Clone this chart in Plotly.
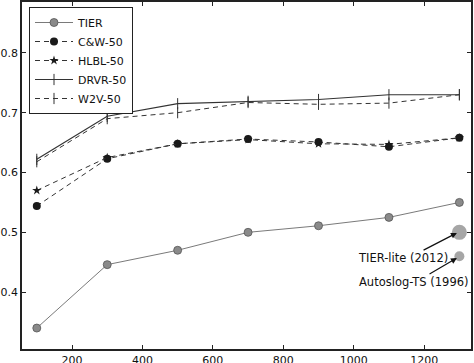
import plotly.graph_objects as go

x_vals = [100, 300, 500, 700, 900, 1100, 1300]
tier = [0.340, 0.446, 0.470, 0.500, 0.511, 0.525, 0.550]
cw50 = [0.544, 0.623, 0.648, 0.656, 0.651, 0.643, 0.658]
hlbl50 = [0.570, 0.625, 0.648, 0.655, 0.648, 0.647, 0.658]
drvr50 = [0.622, 0.694, 0.715, 0.719, 0.722, 0.730, 0.730]
w2v50 = [0.618, 0.690, 0.700, 0.717, 0.714, 0.716, 0.730]

tier_lite_x, tier_lite_y = 1300, 0.500
autoslog_x, autoslog_y = 1300, 0.460

x_ticks = [200, 400, 600, 800, 1000, 1200]
y_ticks = [0.4, 0.5, 0.6, 0.7, 0.8]

font = "DejaVu Sans"
fig = go.Figure()

fig.add_trace(go.Scatter(x=x_vals, y=tier, name="TIER", mode="lines+markers",
                         line=dict(color="#7a7a7a", width=1),
                         marker=dict(symbol="circle", size=8, color="#8a8a8a",
                                     line=dict(color="#555555", width=0.8))))
fig.add_trace(go.Scatter(x=x_vals, y=cw50, name="C&W-50", mode="lines+markers",
                         line=dict(color="#333333", width=1, dash="5px,4px"),
                         marker=dict(symbol="circle", size=8, color="#1a1a1a")))
fig.add_trace(go.Scatter(x=x_vals, y=hlbl50, name="HLBL-50", mode="lines+markers",
                         line=dict(color="#333333", width=1, dash="5px,4px"),
                         marker=dict(symbol="star", size=7, color="#1a1a1a")))
fig.add_trace(go.Scatter(x=x_vals, y=drvr50, name="DRVR-50", mode="lines+markers",
                         line=dict(color="#333333", width=1.2),
                         marker=dict(symbol="line-ns", size=8,
                                     line=dict(color="#333333", width=1))))
fig.add_trace(go.Scatter(x=x_vals, y=w2v50, name="W2V-50", mode="lines+markers",
                         line=dict(color="#333333", width=1, dash="5px,4px"),
                         marker=dict(symbol="line-ns", size=8,
                                     line=dict(color="#333333", width=1))))

fig.add_trace(go.Scatter(x=[tier_lite_x], y=[tier_lite_y], mode="markers", showlegend=False,
                         marker=dict(symbol="circle", size=15, color="#a6a6a6")))
fig.add_trace(go.Scatter(x=[autoslog_x], y=[autoslog_y], mode="markers", showlegend=False,
                         marker=dict(symbol="circle", size=10, color="#a6a6a6")))

fig.update_layout(
    width=474, height=363,
    margin=dict(l=22, r=3, t=2, b=14, autoexpand=False),
    paper_bgcolor="white", plot_bgcolor="white",
    font=dict(family=font, size=11, color="#111111"),
    showlegend=True,
    legend=dict(x=29 / 474, y=1 - 7 / 363, xref="container", yref="container",
                xanchor="left", yanchor="top",
                bgcolor="white", bordercolor="#222222", borderwidth=1,
                font=dict(family=font, size=11, color="#111111"),
                tracegroupgap=0, itemwidth=38),
)

# text labels with arrows pointing at the two reference systems
fig.add_annotation(x=1140, y=0.4576, xref="x", yref="y",
                   text="TIER-lite (2012)", showarrow=False,
                   font=dict(family=font, size=11.5, color="#111111"),
                   xanchor="center", yanchor="middle")
fig.add_annotation(x=1170, y=0.4175, xref="x", yref="y",
                   text="Autoslog-TS (1996)", showarrow=False,
                   font=dict(family=font, size=11.5, color="#111111"),
                   xanchor="center", yanchor="middle")
fig.add_annotation(x=1293, y=0.499, xref="x", yref="y",
                   ax=1194, ay=0.469, axref="x", ayref="y",
                   text="", showarrow=True, arrowhead=2, arrowsize=1,
                   arrowwidth=1.2, arrowcolor="#111111")
fig.add_annotation(x=1293, y=0.457, xref="x", yref="y",
                   ax=1211, ay=0.4288, axref="x", ayref="y",
                   text="", showarrow=True, arrowhead=2, arrowsize=1,
                   arrowwidth=1.2, arrowcolor="#111111")

fig.update_xaxes(range=[58, 1333], tickvals=x_ticks, ticks="inside", ticklen=4,
                 tickcolor="#222222", showline=True, linecolor="#222222", linewidth=1.5,
                 mirror="ticks", showgrid=False, zeroline=False, automargin=False,
                 tickfont=dict(family=font, size=11, color="#111111"))
fig.update_yaxes(range=[0.305, 0.885], tickvals=y_ticks, tickformat=".1f",
                 ticks="inside", ticklen=4, tickcolor="#222222",
                 showline=True, linecolor="#222222", linewidth=1.5,
                 mirror="ticks", showgrid=False, zeroline=False, automargin=False,
                 tickfont=dict(family=font, size=11, color="#111111"))

fig.write_html("out.html", config={"displayModeBar": False},
               post_script="document.body.style.margin='0';document.body.style.overflow='hidden';")
